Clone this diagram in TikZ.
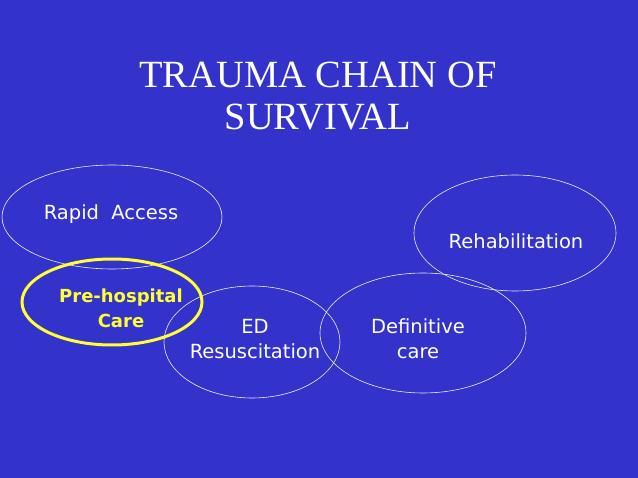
\documentclass[tikz,border=0pt]{standalone}
\usepackage{fontspec}
\setmainfont{Liberation Serif}
\newfontfamily\lab{DejaVu Sans}
\definecolor{bg}{HTML}{3333CC}
\definecolor{yel}{HTML}{FFFF33}
\begin{document}
\begin{tikzpicture}[x=1pt,y=-1pt,
  ring/.style={draw=white!85!gray,line width=0.6pt},
  lbl/.style={text=white,font=\lab\fontsize{19.5}{25}\selectfont,align=center}]
\fill[bg] (0,0) rectangle (638,478);
\useasboundingbox (0,0) rectangle (638,478);
\node[text=white,font=\fontsize{38.5}{42}\selectfont,align=center] (title) at (318,96) {TRAUMA CHAIN OF\\SURVIVAL};
\draw[ring] (112,217) ellipse [x radius=110,y radius=52];
\draw[ring] (515,233) ellipse [x radius=101,y radius=58];
\draw[ring] (252,342) ellipse [x radius=88,y radius=56];
\draw[ring] (423,333) ellipse [x radius=103,y radius=60];
\draw[yel,line width=3pt] (112,302) ellipse [x radius=90,y radius=43];
\node[lbl] (ra) at (111,214) {Rapid\ \ Access};
\node[lbl] (rh) at (516,241) {Rehabilitation};
\node[lbl,text=yel,font=\lab\bfseries\fontsize{18}{25}\selectfont] (ph) at (121,308) {Pre-hospital\\Care};
\node[lbl] (ed) at (255,339) {ED\\Resuscitation};
\node[lbl] (dc) at (418,339) {Definitive\\care};
\end{tikzpicture}
\end{document}
